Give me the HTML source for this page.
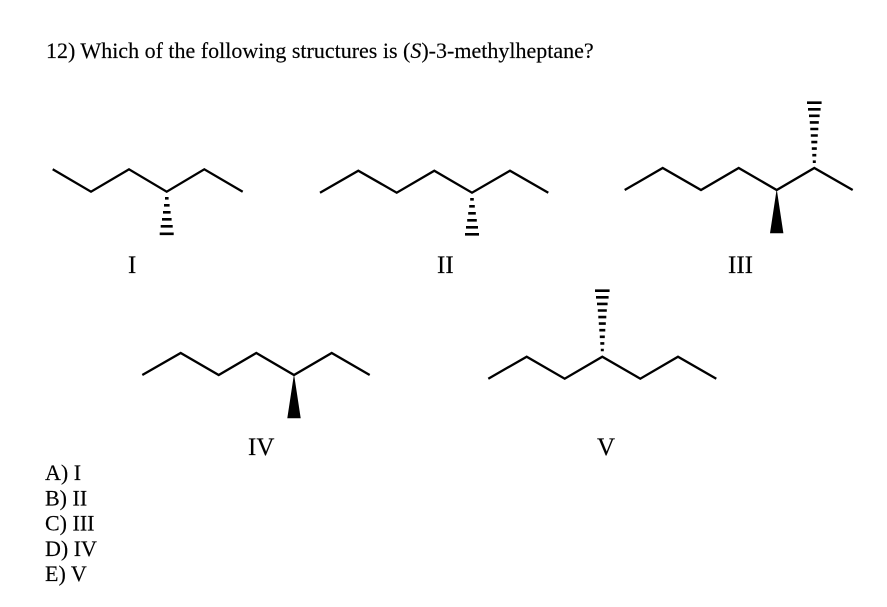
<!DOCTYPE html>
<html>
<head>
<meta charset="utf-8">
<style>
html,body{margin:0;padding:0;background:#fff;width:887px;height:607px;overflow:hidden}
svg{display:block;filter:blur(0.35px)}
text{font-family:"Liberation Serif",serif;font-size:22px;fill:#000;stroke:#000;stroke-width:0.15}
text.l{font-size:25px}
.b{fill:none;stroke:#000;stroke-width:2.3;stroke-linejoin:miter;stroke-linecap:butt}
.h{stroke:#000;stroke-width:2.6;fill:none}
</style>
</head>
<body>
<svg width="887" height="607" viewBox="0 0 887 607" xmlns="http://www.w3.org/2000/svg">
<rect width="887" height="607" fill="#fff"/>
<text x="46" y="58">12) Which of the following structures is (<tspan font-style="italic">S</tspan>)-3-methylheptane?</text>

<!-- I -->
<polyline class="b" points="52.7,169.3 91,191.7 129,169.3 166.7,191.7 204.3,169.3 242.7,191.7"/>
<g class="h">
<path d="M165 198.3h3.6M164 205.3h5.6M163 212.3h7.6M162 219.3h9.6M160.7 226.3h12M159.7 233.8h14"/>
</g>
<text class="l" x="128" y="273">I</text>

<!-- II -->
<polyline class="b" points="320,192.7 358.3,170.7 396.7,192.7 434.3,170.7 472,192.7 510,170.7 548.3,192.7"/>
<g class="h">
<path d="M470.2 199.3h3.6M469.2 206.3h5.6M468.2 213.3h7.6M467.2 220.3h9.6M466 227.3h12M465 234.3h14"/>
</g>
<text class="l" x="437" y="273">II</text>

<!-- III -->
<polyline class="b" points="624.7,190 662.7,168 701,190 738.7,168 776.7,190 814.3,168 852.7,190"/>
<polygon points="776.7,189 770,233.3 783.4,233.3" fill="#000"/>
<g class="h">
<path d="M812.8 161.7h3M812.3 155.2h4M811.8 148.6h5M811.3 142.1h6M810.8 135.5h7M810.3 129h8M809.8 122.4h9M809 115.8h10.6M808 109.3h12.6M807 102.7h14.6"/>
</g>
<text class="l" x="728" y="273">III</text>

<!-- IV -->
<polyline class="b" points="142.3,375 180.7,353 218.7,375 256.3,353 294,375 331.7,353 369.7,375"/>
<polygon points="294,374 287.3,418.3 300.7,418.3" fill="#000"/>
<text class="l" x="248" y="455">IV</text>

<!-- V -->
<polyline class="b" points="488.3,378.7 526.7,356.7 564.7,378.7 602.3,356.7 640.3,378.7 678,356.7 716.3,378.7"/>
<g class="h">
<path d="M600.8 350h3M600.3 343.4h4M599.8 336.8h5M599.3 330.2h6M598.8 323.6h7M598.3 317.1h8M597.8 310.5h9M597 303.9h10.6M596 297.3h12.6M595 290.7h14.6"/>
</g>
<text class="l" x="597" y="455">V</text>

<!-- options -->
<text x="45" y="480">A) I</text>
<text x="45" y="505.3">B) II</text>
<text x="45" y="530.6">C) III</text>
<text x="45" y="555.9">D) IV</text>
<text x="45" y="581.2">E) V</text>
</svg>
</body>
</html>
